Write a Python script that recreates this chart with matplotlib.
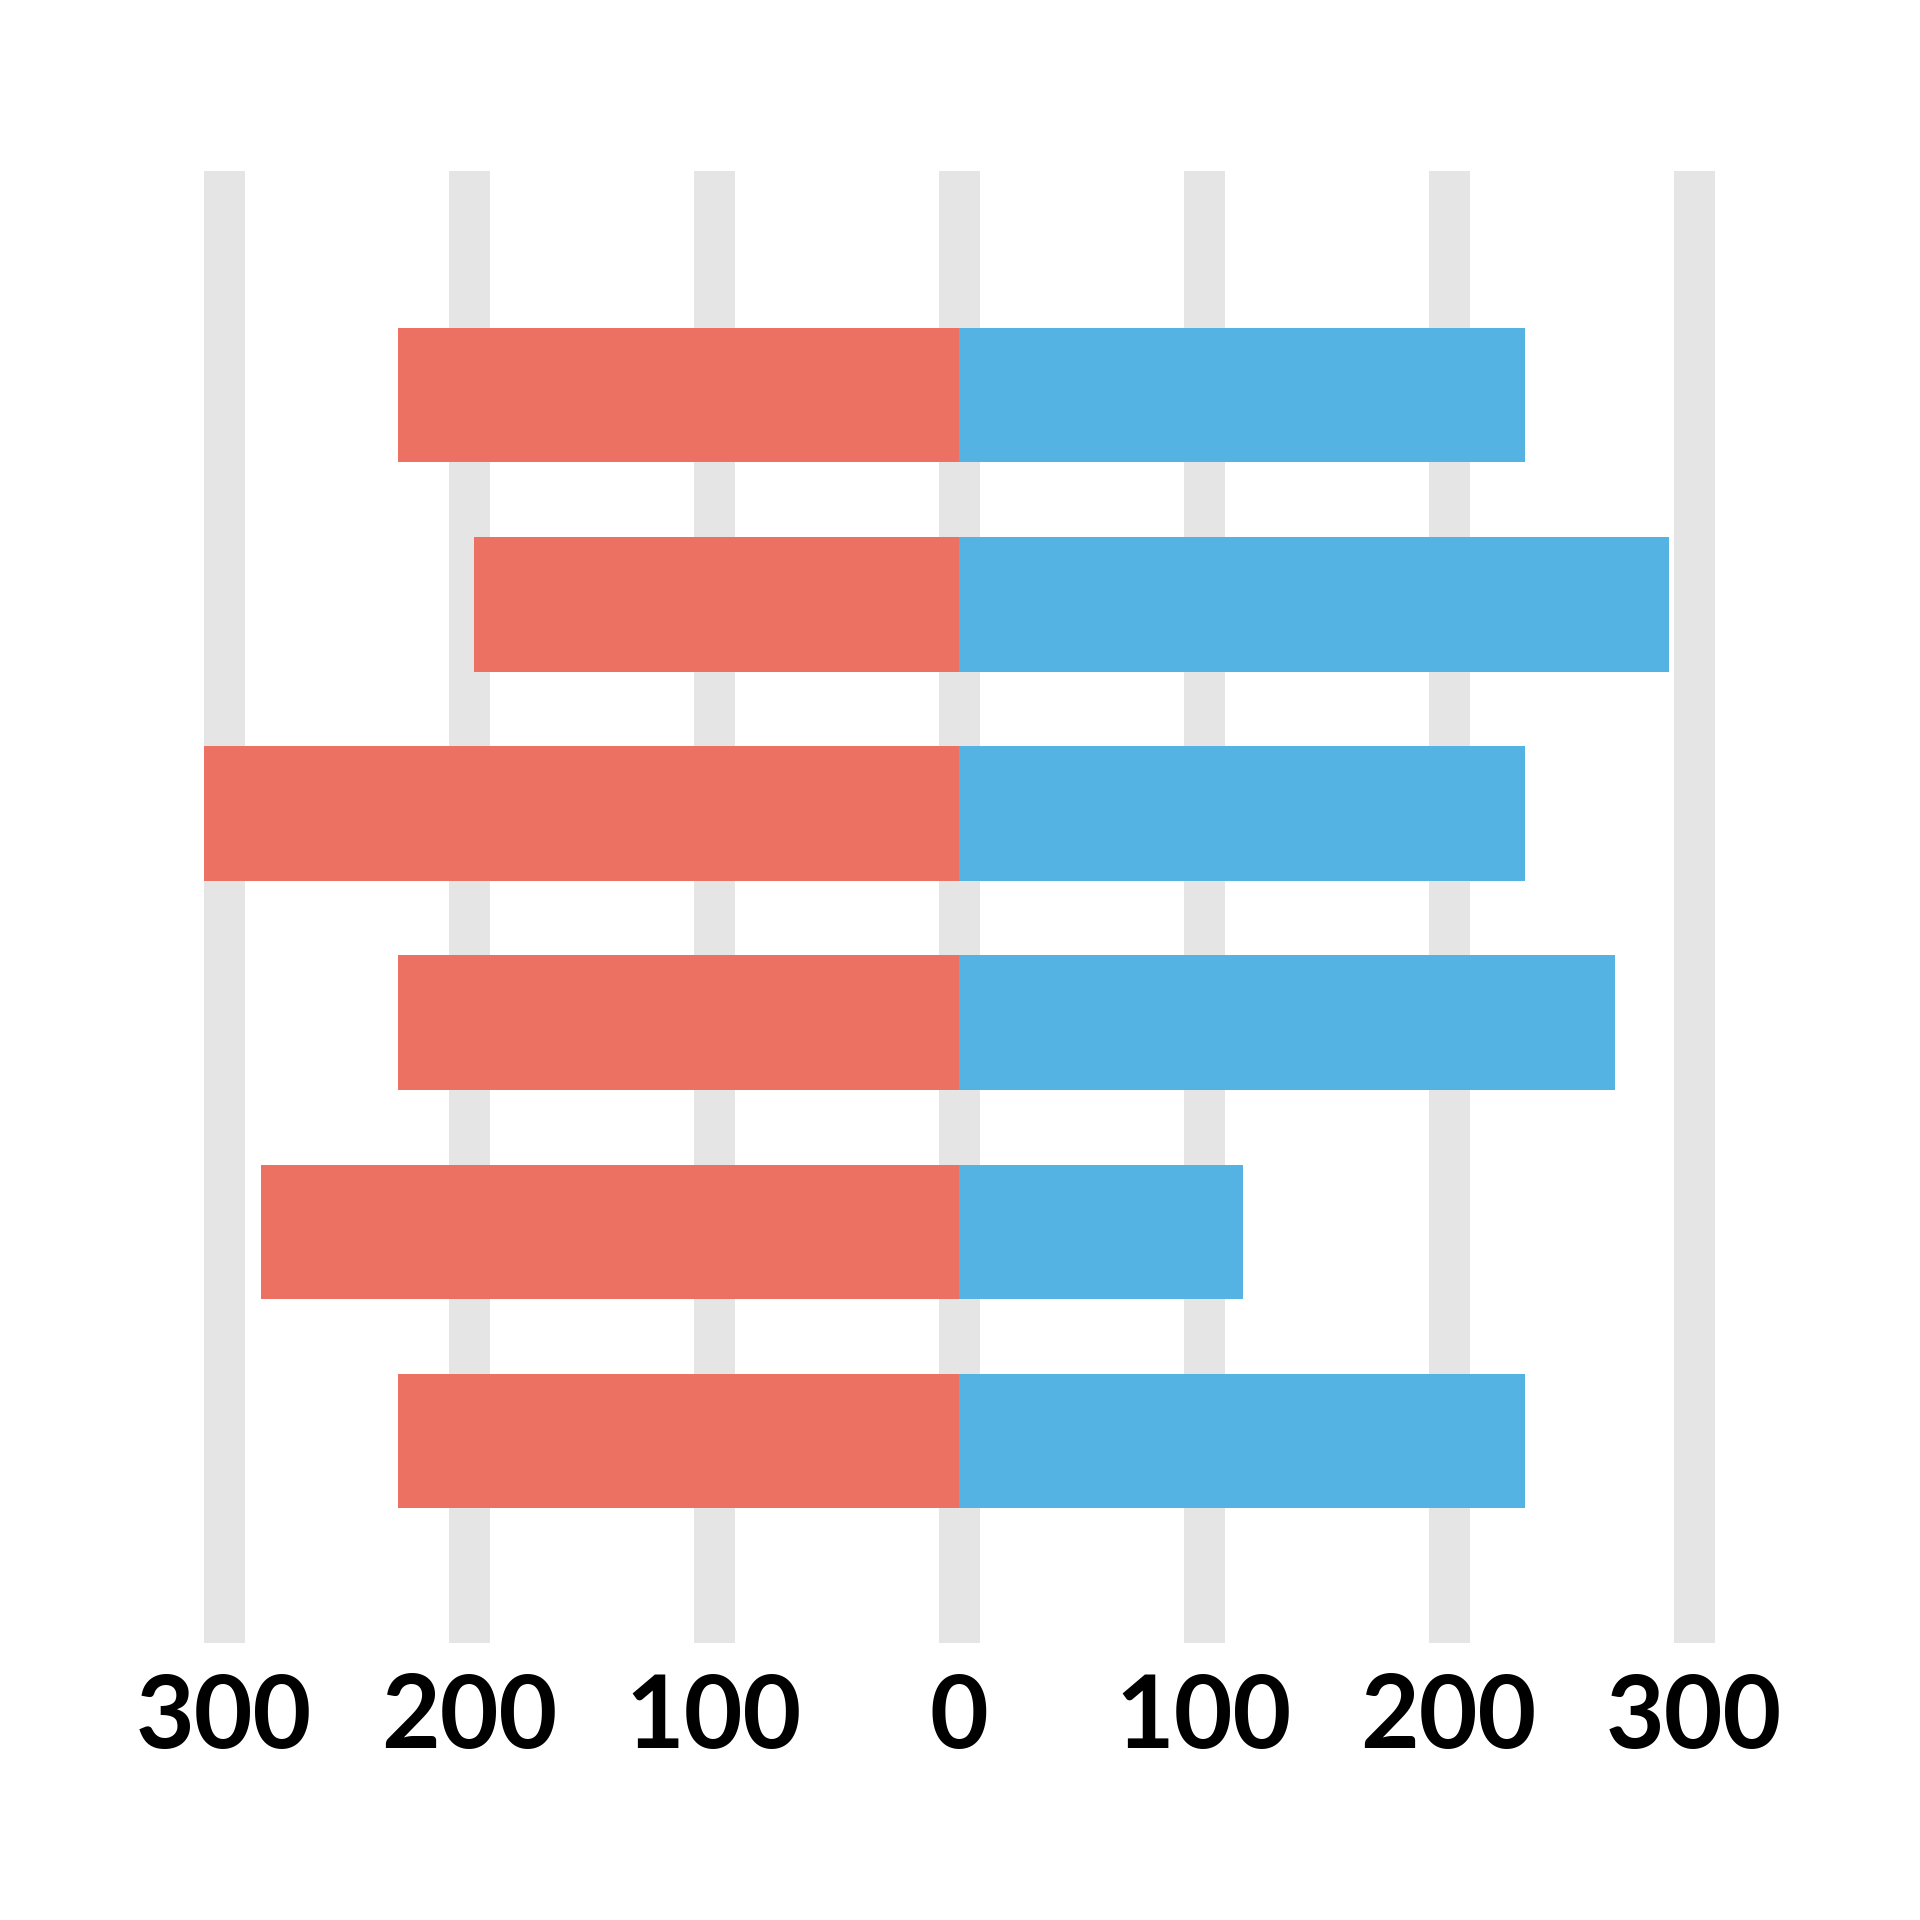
import matplotlib
matplotlib.use("Agg")
import matplotlib.pyplot as plt

rows = [0, 1, 2, 3, 4, 5]
left_values = [229, 198, 308, 229, 285, 229]
right_values = [231, 290, 231, 268, 116, 231]
tick_values = [-300, -200, -100, 0, 100, 200, 300]
tick_labels = ["300", "200", "100", "0", "100", "200", "300"]

red = "#ec7163"
blue = "#54b3e3"
grid_grey = "#e5e5e5"

fig = plt.figure(figsize=(19.2, 19.2), dpi=100)
ax = fig.add_axes([0.0529, 0.1443, 0.893, 0.7667])

ax.barh(rows, [-v for v in left_values], height=0.643, color=red, zorder=3)
ax.barh(rows, right_values, height=0.643, color=blue, zorder=3)

ax.set_xlim(-350, 350)
ax.set_ylim(5.965, -1.072)

ax.set_xticks(tick_values)
ax.set_xticklabels(tick_labels, fontsize=73, family="Lato", fontweight="bold")
ax.set_yticks([])
ax.tick_params(axis="x", length=0, pad=22)
ax.xaxis.grid(True, color=grid_grey, linewidth=29.5, zorder=0)
ax.set_axisbelow(True)

for spine in ax.spines.values():
    spine.set_visible(False)

fig.savefig("out.png", dpi=100, facecolor="white")
